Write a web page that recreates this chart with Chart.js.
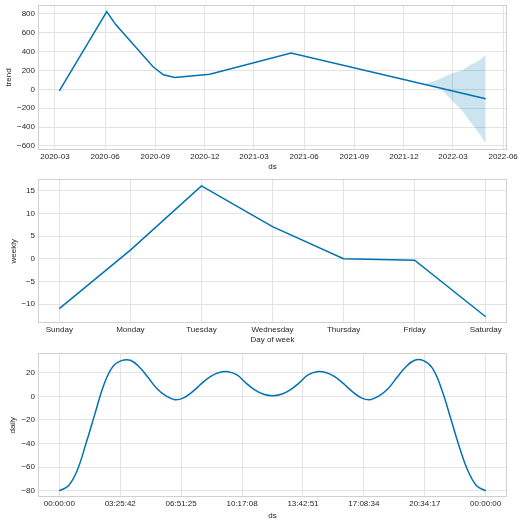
<!DOCTYPE html>
<html><head><meta charset="utf-8">
<script src="https://cdn.jsdelivr.net/npm/chart.js@4.4.1/dist/chart.umd.min.js"></script>
<style>
html,body{margin:0;padding:0;background:#fff;width:524px;height:524px;overflow:hidden}
.p{position:absolute;left:0;width:524px}
</style></head><body>
<div class="p" id="p1" style="top:0;height:172px"><canvas id="c1"></canvas></div>
<div class="p" id="p2" style="top:170px;height:175px"><canvas id="c2"></canvas></div>
<div class="p" id="p3" style="top:345px;height:176px"><canvas id="c3"></canvas></div>
<script>
// ---- data ----
const trendDates = ['2020-03-09','2020-06-04','2020-06-20','2020-08-28','2020-09-16','2020-10-07','2020-12-10','2021-05-08','2022-04-30'];
const trendValues = [-15, 825, 690, 240, 155, 125, 160, 385, -100];
const bandDates = ['2022-01-07','2022-01-18','2022-01-29','2022-02-08','2022-02-17','2022-03-01','2022-03-10','2022-03-19','2022-03-31','2022-04-12','2022-04-22','2022-04-30'];
const bandUpper = [55, 75, 95, 118, 145, 174, 188, 205, 252, 287, 325, 369];
const bandLower = [50, 45, 32, -5, -55, -128, -180, -234, -330, -420, -500, -573];
const trendXTicks = ['2020-03','2020-06','2020-09','2020-12','2021-03','2021-06','2021-09','2021-12','2022-03','2022-06'];
const trendYTicks = [-600, -400, -200, 0, 200, 400, 600, 800];

const weekDays = ['Sunday','Monday','Tuesday','Wednesday','Thursday','Friday','Saturday'];
const weeklyValues = [-11, 1.9, 16.1, 7.1, 0, -0.3, -12.8];
const weeklyYTicks = [-10, -5, 0, 5, 10, 15];

const dailyHours = [0,0.5,1,1.5,2,2.5,3,3.5,4,4.5,5,5.5,6,6.5,7,7.5,8,8.5,9,9.5,10,10.5,11,11.5,12,12.5,13,13.5,14,14.5,15,15.5,16,16.5,17,17.5,18,18.5,19,19.5,20,20.5,21,21.5,22,22.5,23,23.5,24];
const dailyValues = [-80,-76,-63,-40,-15,9.5,25,30.3,30.6,25,16,6.5,0.5,-2.8,-1.2,4,10.8,16.8,20.3,21,18.2,11.5,5.5,1.8,0.5,1.8,5.5,11.5,18.2,21,20.3,16.8,10.8,4,-1.2,-2.8,0.5,6.5,16,25,30.6,30.3,24,7,-17,-42,-63,-76,-80];
const dailyTickHours = [0, 3.428571, 6.857143, 10.285714, 13.714286, 17.142857, 20.571429, 24];
const dailyTickLabels = ['00:00:00','03:25:42','06:51:25','10:17:08','13:42:51','17:08:34','20:34:17','00:00:00'];
const dailyYTicks = [-80, -60, -40, -20, 0, 20];

// ---- helpers ----
const FONT = {family: "'Liberation Sans', Arial, sans-serif", size: 8};
const TXT = '#262626';
const LINE = '#0072B2';
const GRID = '#e3e3e3';
const LW = 1.5;
const fmt = v => v < 0 ? '\u2212' + Math.abs(v) : String(v);
const day0 = Date.parse('2020-03-01');
const toDay = s => (Date.parse(s.length === 7 ? s + '-01' : s) - day0) / 864e5;
const margin = (lo, hi) => [lo - (hi - lo) * 0.05, hi + (hi - lo) * 0.05];

const frame = {id: 'frame', afterDatasetsDraw(chart) {
  const {ctx, chartArea: a} = chart;
  ctx.save(); ctx.strokeStyle = '#d0d0d0'; ctx.lineWidth = 1;
  ctx.strokeRect(Math.round(a.left) + 0.5, Math.round(a.top) + 0.5, Math.round(a.right - a.left) - 1, Math.round(a.bottom - a.top) - 1);
  ctx.restore();
}};

function panel(id, top, height, plotTop, plotBottom, yTitle, yTitlePad, datasets, xr, xTicks, xLabels, xTitle, yr, yTicks) {
  new Chart(document.getElementById(id), {
    type: 'line',
    data: {datasets},
    options: {
      responsive: true, maintainAspectRatio: false, animation: false,
      layout: {padding: {top: plotTop - top, right: 17, left: 0, bottom: 0}},
      plugins: {legend: {display: false}, tooltip: {enabled: false}},
      elements: {point: {radius: 0}},
      scales: {
        x: {
          type: 'linear', position: 'bottom', min: xr[0], max: xr[1],
          afterFit: s => { s.height = top + height - plotBottom; s.paddingLeft = 0; s.paddingRight = 0; },
          afterBuildTicks: s => { s.ticks = xTicks.map(v => ({value: v})); },
          ticks: {callback: (v, i) => xLabels[i], font: FONT, color: TXT, padding: 2, maxRotation: 0, autoSkip: false},
          grid: {color: GRID, drawTicks: false},
          border: {display: false},
          title: {display: true, text: xTitle, font: FONT, color: TXT, padding: 0}
        },
        y: {
          type: 'linear', position: 'left', min: yr[0], max: yr[1],
          afterFit: s => { s.width = 38; s.paddingTop = 0; s.paddingBottom = 0; },
          afterBuildTicks: s => { s.ticks = yTicks.map(v => ({value: v})); },
          ticks: {callback: v => fmt(v), font: FONT, color: TXT, padding: 3, autoSkip: false},
          grid: {color: GRID, drawTicks: false},
          border: {display: false},
          title: {display: true, text: yTitle, font: FONT, color: TXT, padding: {top: yTitlePad, bottom: 0}}
        }
      }
    },
    plugins: [frame]
  });
}

// ---- trend ----
const tX = trendDates.map(toDay);
const bX = bandDates.map(toDay);
panel('c1', 0, 172, 5, 150, 'trend', 4.2, [
  {data: tX.map((x, i) => ({x, y: trendValues[i]})), borderColor: LINE, borderWidth: LW, fill: false, tension: 0},
  {data: bX.map((x, i) => ({x, y: bandUpper[i]})), borderWidth: 0, borderColor: 'rgba(0,0,0,0)', fill: false, tension: 0},
  {data: bX.map((x, i) => ({x, y: bandLower[i]})), borderWidth: 0, borderColor: 'rgba(0,0,0,0)', fill: '-1', backgroundColor: 'rgba(0,114,178,0.2)', tension: 0}
], margin(Math.min(...tX), Math.max(...tX)), trendXTicks.map(toDay), trendXTicks, 'ds',
   margin(Math.min(...bandLower, ...trendValues), Math.max(...bandUpper, ...trendValues)), trendYTicks);

// ---- weekly ----
panel('c2', 170, 175, 179.3, 323.3, 'weekly', 8.5, [
  {data: weeklyValues.map((y, i) => ({x: i, y})), borderColor: LINE, borderWidth: LW, fill: false, tension: 0}
], margin(0, weekDays.length - 1), weekDays.map((d, i) => i), weekDays, 'Day of week',
   margin(Math.min(...weeklyValues), Math.max(...weeklyValues)), weeklyYTicks);

// ---- daily ----
panel('c3', 345, 176, 353.3, 497.3, 'daily', 7.5, [
  {data: dailyHours.map((x, i) => ({x, y: dailyValues[i]})), borderColor: LINE, borderWidth: LW, fill: false, tension: 0.4}
], margin(0, 24), dailyTickHours, dailyTickLabels, 'ds',
   margin(Math.min(...dailyValues), 31), dailyYTicks);
</script>
</body></html>
